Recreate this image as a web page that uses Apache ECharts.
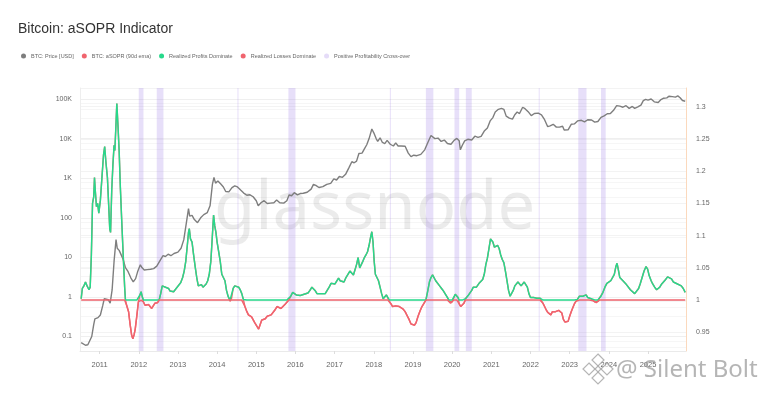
<!DOCTYPE html>
<html>
<head>
<meta charset="utf-8">
<title>Bitcoin: aSOPR Indicator</title>
<script src="https://cdn.jsdelivr.net/npm/echarts@6/dist/echarts.min.js"></script>
<style>
html, body { margin: 0; padding: 0; background: #fff; }
#chart { width: 764px; height: 396px; }
</style>
</head>
<body>
<div id="chart"></div>
<script>
// BTC price [USD] (x = decimal year)
var priceYears = [
    2010.53, 2010.58, 2010.64, 2010.70, 2010.75, 2010.80, 2010.85, 2010.88, 2010.92, 2010.96,
    2011.02, 2011.08, 2011.12, 2011.16, 2011.22, 2011.27, 2011.32, 2011.37, 2011.42, 2011.45,
    2011.50, 2011.55, 2011.60, 2011.66, 2011.72, 2011.80, 2011.86, 2011.92, 2011.97, 2012.04,
    2012.08, 2012.14, 2012.22, 2012.30, 2012.38, 2012.46, 2012.55, 2012.62, 2012.68, 2012.75,
    2012.82, 2012.90, 2013.00, 2013.08, 2013.15, 2013.22, 2013.27, 2013.30, 2013.36, 2013.42,
    2013.50, 2013.58, 2013.66, 2013.75, 2013.82, 2013.88, 2013.92, 2013.96, 2014.02, 2014.10,
    2014.16, 2014.22, 2014.30, 2014.38, 2014.45, 2014.52, 2014.60, 2014.68, 2014.76, 2014.84,
    2014.92, 2015.00, 2015.05, 2015.12, 2015.20, 2015.28, 2015.36, 2015.45, 2015.52, 2015.60,
    2015.70, 2015.78, 2015.84, 2015.90, 2015.97, 2016.05, 2016.12, 2016.20, 2016.30, 2016.40,
    2016.46, 2016.52, 2016.60, 2016.70, 2016.80, 2016.90, 2016.98, 2017.05, 2017.12, 2017.20,
    2017.28, 2017.36, 2017.44, 2017.50, 2017.56, 2017.62, 2017.70, 2017.76, 2017.82, 2017.88,
    2017.95, 2018.00, 2018.06, 2018.10, 2018.16, 2018.22, 2018.28, 2018.34, 2018.42, 2018.50,
    2018.56, 2018.62, 2018.70, 2018.80, 2018.88, 2018.95, 2019.02, 2019.10, 2019.20, 2019.30,
    2019.38, 2019.46, 2019.50, 2019.56, 2019.64, 2019.72, 2019.80, 2019.88, 2019.97, 2020.05,
    2020.12, 2020.18, 2020.21, 2020.26, 2020.32, 2020.40, 2020.50, 2020.58, 2020.66, 2020.74,
    2020.82, 2020.90, 2020.97, 2021.04, 2021.10, 2021.18, 2021.26, 2021.32, 2021.38, 2021.46,
    2021.54, 2021.60, 2021.66, 2021.72, 2021.80, 2021.86, 2021.94, 2022.02, 2022.10, 2022.20,
    2022.28, 2022.36, 2022.44, 2022.50, 2022.58, 2022.66, 2022.74, 2022.82, 2022.86, 2022.96,
    2023.04, 2023.12, 2023.20, 2023.30, 2023.38, 2023.46, 2023.56, 2023.64, 2023.72, 2023.80,
    2023.88, 2023.96, 2024.04, 2024.12, 2024.20, 2024.28, 2024.36, 2024.44, 2024.52, 2024.60,
    2024.66, 2024.74, 2024.82, 2024.88, 2024.94, 2025.00, 2025.08, 2025.16, 2025.26, 2025.32,
    2025.40, 2025.48, 2025.54, 2025.62, 2025.70, 2025.76, 2025.82, 2025.88, 2025.95
];
var priceUsd = [
    0.07, 0.065, 0.06, 0.062, 0.06, 0.1, 0.2, 0.28, 0.25, 0.3,
    0.35, 0.6, 0.9, 1.0, 0.85, 0.7, 1.5, 8, 28, 17,
    15, 14, 9, 5.5, 4.5, 3, 2.4, 2.9, 4.3, 6.5,
    5.5, 4.8, 4.9, 5, 5.2, 6, 8.5, 11, 10.5, 12,
    11, 12.5, 13.5, 17, 28, 80, 170, 110, 115, 90,
    75, 100, 120, 135, 200, 700, 1050, 750, 850, 700,
    600, 460, 450, 580, 640, 600, 500, 420, 370, 380,
    340, 270, 200, 240, 270, 230, 235, 240, 280, 240,
    235, 270, 380, 360, 430, 380, 410, 415, 440, 530,
    700, 660, 580, 610, 700, 740, 960, 900, 1100, 1050,
    1250, 1800, 2600, 2450, 2700, 4200, 4300, 5500, 7000, 10000,
    17500, 14000, 10000, 8500, 10500, 8000, 7500, 9000, 7200, 6500,
    7800, 6500, 6500, 6400, 4300, 3500, 3800, 3700, 4000, 5200,
    8000, 12000, 11000, 10000, 10300, 8500, 9200, 7500, 7200, 9000,
    10100, 8800, 5200, 6800, 8800, 9600, 9200, 11500, 10700, 11400,
    15500, 18500, 28000, 34000, 47000, 55000, 58000, 55000, 37000, 33000,
    31000, 40000, 47000, 43000, 62000, 57000, 48000, 38000, 43000, 44000,
    40000, 30000, 20000, 21000, 23000, 19500, 19500, 20500, 16500, 16600,
    23000, 23500, 28000, 29000, 26500, 30000, 29500, 26000, 27000, 34500,
    37500, 42500, 43000, 52000, 68000, 66000, 62000, 68000, 58000, 65000,
    58000, 63000, 70000, 91000, 98000, 94000, 100000, 85000, 82000, 95000,
    105000, 107000, 118000, 115000, 112000, 120000, 108000, 92000, 88000
];

// BTC aSOPR (90d ema)
var soprYears = [
    2010.53, 2010.56, 2010.60, 2010.64, 2010.68, 2010.73, 2010.76, 2010.79, 2010.82, 2010.85,
    2010.87, 2010.89, 2010.92, 2010.95, 2010.98, 2011.02, 2011.06, 2011.10, 2011.13, 2011.16,
    2011.20, 2011.23, 2011.26, 2011.28, 2011.31, 2011.34, 2011.37, 2011.39, 2011.42, 2011.44,
    2011.47, 2011.50, 2011.53, 2011.57, 2011.61, 2011.64, 2011.66, 2011.70, 2011.74, 2011.78,
    2011.82, 2011.85, 2011.88, 2011.91, 2011.95, 2011.99, 2012.03, 2012.06, 2012.09, 2012.12,
    2012.16, 2012.21, 2012.25, 2012.29, 2012.33, 2012.37, 2012.41, 2012.44, 2012.48, 2012.52,
    2012.56, 2012.60, 2012.64, 2012.68, 2012.72, 2012.76, 2012.80, 2012.85, 2012.89, 2012.94,
    2012.98, 2013.02, 2013.07, 2013.12, 2013.16, 2013.20, 2013.24, 2013.27, 2013.29, 2013.32,
    2013.36, 2013.40, 2013.44, 2013.48, 2013.52, 2013.56, 2013.60, 2013.64, 2013.68, 2013.72,
    2013.76, 2013.80, 2013.84, 2013.87, 2013.91, 2013.94, 2013.97, 2014.00, 2014.04, 2014.08,
    2014.12, 2014.16, 2014.20, 2014.24, 2014.28, 2014.33, 2014.37, 2014.41, 2014.45, 2014.50,
    2014.55, 2014.59, 2014.63, 2014.67, 2014.71, 2014.76, 2014.80, 2014.84, 2014.88, 2014.92,
    2014.96, 2015.01, 2015.06, 2015.10, 2015.14, 2015.18, 2015.23, 2015.28, 2015.33, 2015.38,
    2015.43, 2015.48, 2015.53, 2015.58, 2015.63, 2015.68, 2015.73, 2015.78, 2015.83, 2015.88,
    2015.93, 2015.98, 2016.02, 2016.07, 2016.12, 2016.17, 2016.22, 2016.27, 2016.32, 2016.37,
    2016.42, 2016.46, 2016.50, 2016.55, 2016.60, 2016.66, 2016.71, 2016.76, 2016.81, 2016.86,
    2016.91, 2016.96, 2017.01, 2017.06, 2017.10, 2017.14, 2017.19, 2017.24, 2017.29, 2017.34,
    2017.39, 2017.44, 2017.48, 2017.52, 2017.56, 2017.60, 2017.64, 2017.68, 2017.72, 2017.76,
    2017.80, 2017.84, 2017.88, 2017.92, 2017.95, 2017.98, 2018.01, 2018.04, 2018.08, 2018.12,
    2018.16, 2018.20, 2018.24, 2018.28, 2018.32, 2018.36, 2018.40, 2018.44, 2018.48, 2018.52,
    2018.56, 2018.60, 2018.65, 2018.70, 2018.75, 2018.80, 2018.85, 2018.90, 2018.95, 2019.00,
    2019.04, 2019.08, 2019.13, 2019.18, 2019.23, 2019.28, 2019.33, 2019.38, 2019.42, 2019.46,
    2019.50, 2019.54, 2019.58, 2019.63, 2019.68, 2019.73, 2019.78, 2019.83, 2019.88, 2019.92,
    2019.96, 2020.00, 2020.04, 2020.08, 2020.12, 2020.15, 2020.18, 2020.22, 2020.26, 2020.30,
    2020.34, 2020.38, 2020.42, 2020.46, 2020.50, 2020.54, 2020.58, 2020.62, 2020.66, 2020.70,
    2020.74, 2020.78, 2020.82, 2020.86, 2020.90, 2020.94, 2020.98, 2021.01, 2021.04, 2021.08,
    2021.12, 2021.16, 2021.20, 2021.24, 2021.28, 2021.32, 2021.36, 2021.40, 2021.44, 2021.48,
    2021.52, 2021.56, 2021.60, 2021.64, 2021.68, 2021.72, 2021.76, 2021.80, 2021.84, 2021.88,
    2021.92, 2021.96, 2022.00, 2022.04, 2022.08, 2022.12, 2022.16, 2022.20, 2022.24, 2022.28,
    2022.32, 2022.36, 2022.40, 2022.44, 2022.48, 2022.52, 2022.56, 2022.60, 2022.64, 2022.68,
    2022.72, 2022.76, 2022.80, 2022.84, 2022.88, 2022.92, 2022.96, 2023.00, 2023.04, 2023.08,
    2023.12, 2023.16, 2023.20, 2023.25, 2023.30, 2023.34, 2023.38, 2023.42, 2023.46, 2023.50,
    2023.55, 2023.60, 2023.64, 2023.68, 2023.72, 2023.76, 2023.80, 2023.85, 2023.90, 2023.95,
    2024.00, 2024.05, 2024.10, 2024.14, 2024.18, 2024.21, 2024.24, 2024.28, 2024.32, 2024.36,
    2024.40, 2024.45, 2024.50, 2024.55, 2024.60, 2024.66, 2024.71, 2024.76, 2024.80, 2024.85,
    2024.90, 2024.95, 2024.99, 2025.03, 2025.08, 2025.12, 2025.17, 2025.22, 2025.26, 2025.30,
    2025.35, 2025.40, 2025.45, 2025.50, 2025.55, 2025.60, 2025.65, 2025.70, 2025.75, 2025.80,
    2025.85, 2025.90, 2025.95
];
var soprValues = [
    1.002, 1.018, 1.022, 1.028, 1.022, 1.016, 1.02, 1.07, 1.15, 1.16,
    1.19, 1.17, 1.145, 1.15, 1.135, 1.155, 1.19, 1.225, 1.238, 1.215,
    1.19, 1.15, 1.11, 1.105, 1.17, 1.21, 1.24, 1.232, 1.275, 1.305,
    1.27, 1.23, 1.175, 1.116, 1.06, 1.02, 1.0, 0.99, 0.982, 0.962,
    0.945, 0.94, 0.946, 0.955, 0.975, 0.997, 1.008, 1.013, 1.005, 0.997,
    0.992, 0.99, 0.993, 0.992, 0.987, 0.99, 0.995, 0.992, 0.996, 1.0,
    1.01, 1.022, 1.023, 1.02, 1.017, 1.018, 1.014, 1.016, 1.013, 1.016,
    1.02, 1.021, 1.027, 1.035, 1.045, 1.06, 1.085, 1.105, 1.111, 1.095,
    1.09, 1.07, 1.052, 1.035, 1.022, 1.02, 1.024, 1.02, 1.022, 1.025,
    1.03, 1.04, 1.06, 1.09, 1.132, 1.115, 1.105, 1.09, 1.075, 1.06,
    1.04, 1.035, 1.03, 1.015, 1.006, 0.998, 1.003, 1.018, 1.022, 1.021,
    1.02, 1.016, 1.01, 1.001, 0.99, 0.982, 0.977, 0.978, 0.974, 0.972,
    0.965, 0.96, 0.955, 0.962, 0.969, 0.972, 0.971, 0.975, 0.974, 0.977,
    0.98, 0.985, 0.99, 0.99, 0.987, 0.99, 0.993, 0.995, 1.0, 1.006,
    1.012, 1.013, 1.008, 1.009, 1.007, 1.008, 1.009, 1.01, 1.011, 1.015,
    1.02, 1.023, 1.015, 1.01, 1.008, 1.01, 1.011, 1.01, 1.015, 1.02,
    1.026, 1.027, 1.025, 1.026, 1.034, 1.03, 1.031, 1.028, 1.035, 1.04,
    1.045, 1.048, 1.039, 1.04, 1.055, 1.066, 1.05, 1.052, 1.06, 1.066,
    1.07, 1.075, 1.085, 1.098, 1.106, 1.09, 1.06, 1.04, 1.035, 1.03,
    1.02, 1.01, 1.002, 1.004, 1.008, 1.006, 0.998, 0.994, 0.99, 0.992,
    0.991, 0.993, 0.99, 0.988, 0.986, 0.982, 0.976, 0.97, 0.963, 0.96,
    0.961, 0.965, 0.975, 0.983, 0.99, 0.995, 1.0, 1.015, 1.028, 1.035,
    1.039, 1.036, 1.03, 1.027, 1.022, 1.018, 1.014, 1.011, 1.004, 0.998,
    0.995, 0.997, 1.003, 1.009, 1.01, 1.004, 0.994, 0.99, 0.99, 0.995,
    1.002, 1.005, 1.008, 1.01, 1.015, 1.02, 1.023, 1.02, 1.022, 1.027,
    1.03, 1.032, 1.04, 1.055, 1.065, 1.08, 1.095, 1.097, 1.09, 1.082,
    1.08, 1.085, 1.08, 1.07, 1.063, 1.058, 1.045, 1.03, 1.015, 1.006,
    1.005, 1.015, 1.022, 1.025, 1.028, 1.026, 1.022, 1.025, 1.028, 1.031,
    1.02, 1.01, 1.004, 1.003, 1.004, 1.002, 1.003, 1.004, 1.003, 1.0,
    0.995, 0.99, 0.985, 0.981, 0.978, 0.977, 0.982, 0.983, 0.982, 0.983,
    0.984, 0.984, 0.98, 0.97, 0.966, 0.965, 0.967, 0.975, 0.982, 0.988,
    0.994, 0.998, 1.001, 1.006, 1.008, 1.006, 1.009, 1.008, 1.004, 1.003,
    1.002, 0.999, 0.997, 0.996, 0.998, 1.003, 1.006, 1.012, 1.02, 1.026,
    1.028, 1.03, 1.032, 1.04, 1.052, 1.057, 1.048, 1.035, 1.032, 1.03,
    1.027, 1.024, 1.02, 1.016, 1.013, 1.01, 1.011, 1.018, 1.025, 1.035,
    1.045, 1.052, 1.048, 1.038, 1.03, 1.025, 1.02, 1.016, 1.015, 1.02,
    1.025, 1.028, 1.032, 1.036, 1.039, 1.033, 1.028, 1.027, 1.025, 1.026,
    1.022, 1.018, 1.012
];

// Positive profitability cross-over periods
var bandStart = [2012.00, 2012.46, 2014.52, 2015.82, 2018.41, 2019.33, 2020.06, 2020.35, 2022.21, 2023.22, 2023.80];
var bandEnd = [2012.12, 2012.63, 2014.545, 2016.00, 2018.435, 2019.52, 2020.18, 2020.50, 2022.235, 2023.43, 2023.92];

var seriesNames = [
    'BTC: Price [USD]',
    'BTC: aSOPR (90d ema)',
    'Realized Profits Dominate',
    'Realized Losses Dominate',
    'Positive Profitability Cross-over'
];

var colors = {
    price: '#7e7e7e',
    sopr: '#f0646e',
    profit: '#27d98b',
    loss: '#f0646e',
    band: '#e5dcf8',
    text: '#666',
    grid: '#efefef',
};

function zip(xs, ys) {
    var out = [];
    for (var i = 0; i < xs.length; i++) out.push([xs[i], ys[i]]);
    return out;
}

function formatPrice(v) {
    if (v >= 1000) return Math.round(v / 1000) + 'K';
    if (v >= 1) return String(Math.round(v));
    return String(Math.round(v * 10) / 10);
}

var profitValues = soprValues.map(function (v) { return Math.max(v, 1); });
var lossValues = soprValues.map(function (v) { return Math.min(v, 1); });

var bandAreas = bandStart.map(function (s, i) {
    return [{ xAxis: s }, { xAxis: bandEnd[i] }];
});

// watermark logo next to the "@ Silent Bolt" mark (a few outlined diamonds)
function diamond(cx, cy, r) {
    return {
        type: 'polygon',
        silent: true,
        z: 100,
        shape: { points: [[cx, cy - r], [cx + r, cy], [cx, cy + r], [cx - r, cy]] },
        style: { fill: 'rgba(255,255,255,0.6)', stroke: 'rgba(150,150,150,0.7)', lineWidth: 1.2 },
    };
}

var chart = echarts.init(document.getElementById('chart'));
chart.setOption({
    animation: false,
    backgroundColor: '#fff',
    textStyle: { fontFamily: 'Liberation Sans, Arial, sans-serif' },
    title: {
        text: 'Bitcoin: aSOPR Indicator',
        left: 13,
        top: 17,
        textStyle: { fontSize: 14, fontWeight: 'normal', color: '#333' },
    },
    legend: {
        data: seriesNames,
        left: 16,
        top: 48,
        icon: 'circle',
        itemWidth: 5,
        itemHeight: 5,
        itemGap: 8,
        textStyle: { fontSize: 5.5, color: colors.text },
    },
    graphic: [
        {
            type: 'text',
            left: 214,
            top: 176,
            z: 1,
            silent: true,
            style: {
                text: 'glassnode',
                fontSize: 67,
                fontWeight: 'normal',
                fontFamily: 'Noto Sans, sans-serif',
                fill: 'rgba(0,0,0,0.08)',
            },
        },
        diamond(598, 360, 6),
        diamond(589, 369, 6),
        diamond(607, 369, 6),
        diamond(598, 378, 6),
        diamond(598, 369, 3),
        {
            type: 'text',
            left: 616,
            top: 358,
            z: 100,
            silent: true,
            style: {
                text: '@ Silent Bolt',
                fontSize: 24,
                fontFamily: 'Noto Sans, sans-serif',
                fill: 'rgba(150,150,150,0.7)',
            },
        },
    ],
    grid: { left: 80, right: 78, top: 88, bottom: 45 },
    xAxis: {
        type: 'value',
        min: 2010.5,
        max: 2025.97,
        minInterval: 1,
        maxInterval: 1,
        axisLine: { show: true, lineStyle: { color: '#eaeaea' } },
        axisTick: { show: true, length: 3, lineStyle: { color: '#ddd' } },
        splitLine: { show: false },
        minorSplitLine: { show: false },
        axisLabel: {
            color: colors.text,
            fontSize: 7.5,
            margin: 10,
            showMinLabel: false,
            showMaxLabel: false,
            formatter: function (v) { return String(Math.round(v)); },
        },
    },
    yAxis: [
        {
            type: 'log',
            logBase: 10,
            min: 0.043,
            max: 190000,
            position: 'left',
            axisLine: { show: true, lineStyle: { color: '#eeeeee' } },
            axisTick: { show: false },
            splitLine: { show: true, lineStyle: { color: colors.grid, width: 1 } },
            minorTick: { show: false, splitNumber: 4 },
            minorSplitLine: { show: true, lineStyle: { color: '#f6f6f6', width: 1 } },
            axisLabel: {
                color: colors.text,
                fontSize: 7,
                margin: 8,
                showMinLabel: false,
                showMaxLabel: false,
                formatter: formatPrice,
            },
        },
        {
            type: 'value',
            min: 0.921,
            max: 1.329,
            minInterval: 0.05,
            maxInterval: 0.05,
            position: 'right',
            axisLine: { show: true, lineStyle: { color: '#fbd9bd' } },
            axisTick: { show: false },
            splitLine: { show: true, lineStyle: { color: '#f3f3f3' } },
            axisLabel: {
                color: colors.text,
                fontSize: 7,
                margin: 10,
                showMinLabel: false,
                showMaxLabel: false,
                formatter: function (v) { return String(Math.round(v * 100) / 100); },
            },
        },
    ],
    series: [
        {
            name: seriesNames[4],
            type: 'line',
            yAxisIndex: 1,
            data: [],
            itemStyle: { color: colors.band },
            lineStyle: { color: colors.band },
            z: 1,
            markArea: {
                silent: true,
                itemStyle: { color: 'rgba(170,140,235,0.28)' },
                data: bandAreas,
            },
        },
        {
            name: seriesNames[0],
            type: 'line',
            yAxisIndex: 0,
            data: zip(priceYears, priceUsd),
            showSymbol: false,
            itemStyle: { color: colors.price },
            lineStyle: { color: colors.price, width: 1.4 },
            z: 3,
        },
        {
            name: seriesNames[1],
            type: 'line',
            yAxisIndex: 1,
            data: zip(soprYears, soprValues),
            showSymbol: false,
            itemStyle: { color: colors.sopr },
            lineStyle: { color: colors.sopr, width: 1.4 },
            z: 4,
        },
        {
            name: seriesNames[2],
            type: 'line',
            yAxisIndex: 1,
            data: zip(soprYears, profitValues),
            showSymbol: false,
            itemStyle: { color: colors.profit },
            lineStyle: { color: colors.profit, width: 1.5 },
            z: 5,
        },
        {
            name: seriesNames[3],
            type: 'line',
            yAxisIndex: 1,
            data: zip(soprYears, lossValues),
            showSymbol: false,
            itemStyle: { color: colors.loss },
            lineStyle: { color: colors.loss, width: 1.5 },
            z: 6,
        },
    ],
});
</script>
</body>
</html>
